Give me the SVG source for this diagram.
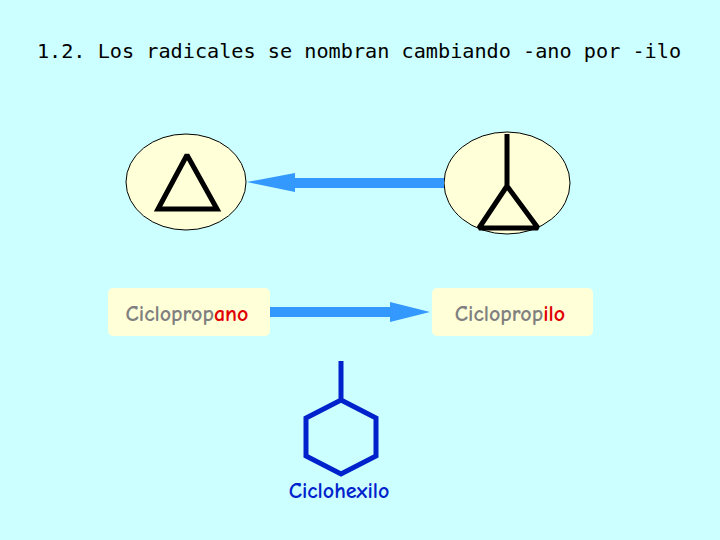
<svg xmlns="http://www.w3.org/2000/svg" width="720" height="540" viewBox="0 0 720 540">
<style>
.ell{fill:#ffffd8;stroke:#000;stroke-width:1}
.mol{fill:none;stroke:#000;stroke-width:5;stroke-linejoin:miter;stroke-miterlimit:2}
.box{fill:#ffffd8}
.lab{font-family:"Comic Neue","DejaVu Sans",sans-serif;font-size:22px;font-weight:bold;fill:#808080;text-anchor:middle}
.red{fill:#e00000}
.arr{fill:#3399ff}
</style>
<rect width="720" height="540" fill="#ccffff"/>
<text x="359" y="58" font-family="DejaVu Sans Mono,monospace" font-size="20.2" text-anchor="middle" fill="#000">1.2. Los radicales se nombran cambiando -ano por -ilo</text>
<g id="ciclopropano-mol">
<ellipse class="ell" cx="186" cy="182" rx="60" ry="48"/>
<polygon class="mol" points="187,155 158,209 217,209"/>
</g>
<g id="ciclopropilo-mol">
<ellipse class="ell" cx="507" cy="183" rx="63" ry="51"/>
<path class="mol" d="M507,134 V186 M507,186 L479,228 H538 Z"/>
</g>
<g id="ciclopropano-label">
<rect class="box" x="108" y="288" width="162" height="48" rx="5"/>
<text class="lab" x="187" y="321">Cicloprop<tspan class="red">ano</tspan></text>
</g>
<g id="ciclopropilo-label">
<rect class="box" x="432" y="288" width="161" height="48" rx="5"/>
<text class="lab" x="510" y="321">Cicloprop<tspan class="red">ilo</tspan></text>
</g>
<g id="ciclohexilo">
<path d="M341,361 V400 M341,400 L376,418 V456 L341,474 L306,456 V418 Z" fill="none" stroke="#0022cc" stroke-width="5"/>
<text x="339" y="498" font-family="Comic Neue,DejaVu Sans,sans-serif" font-size="22" font-weight="bold" fill="#0022cc" text-anchor="middle">Ciclohexilo</text>
</g>
<g id="connectors">
<polygon class="arr" points="444,178 295,178 295,173 247,182 295,192 295,188 444,188"/>
<polygon class="arr" points="270,307 390,307 390,302 430,312 390,322 390,317 270,317"/>
</g>
</svg>
